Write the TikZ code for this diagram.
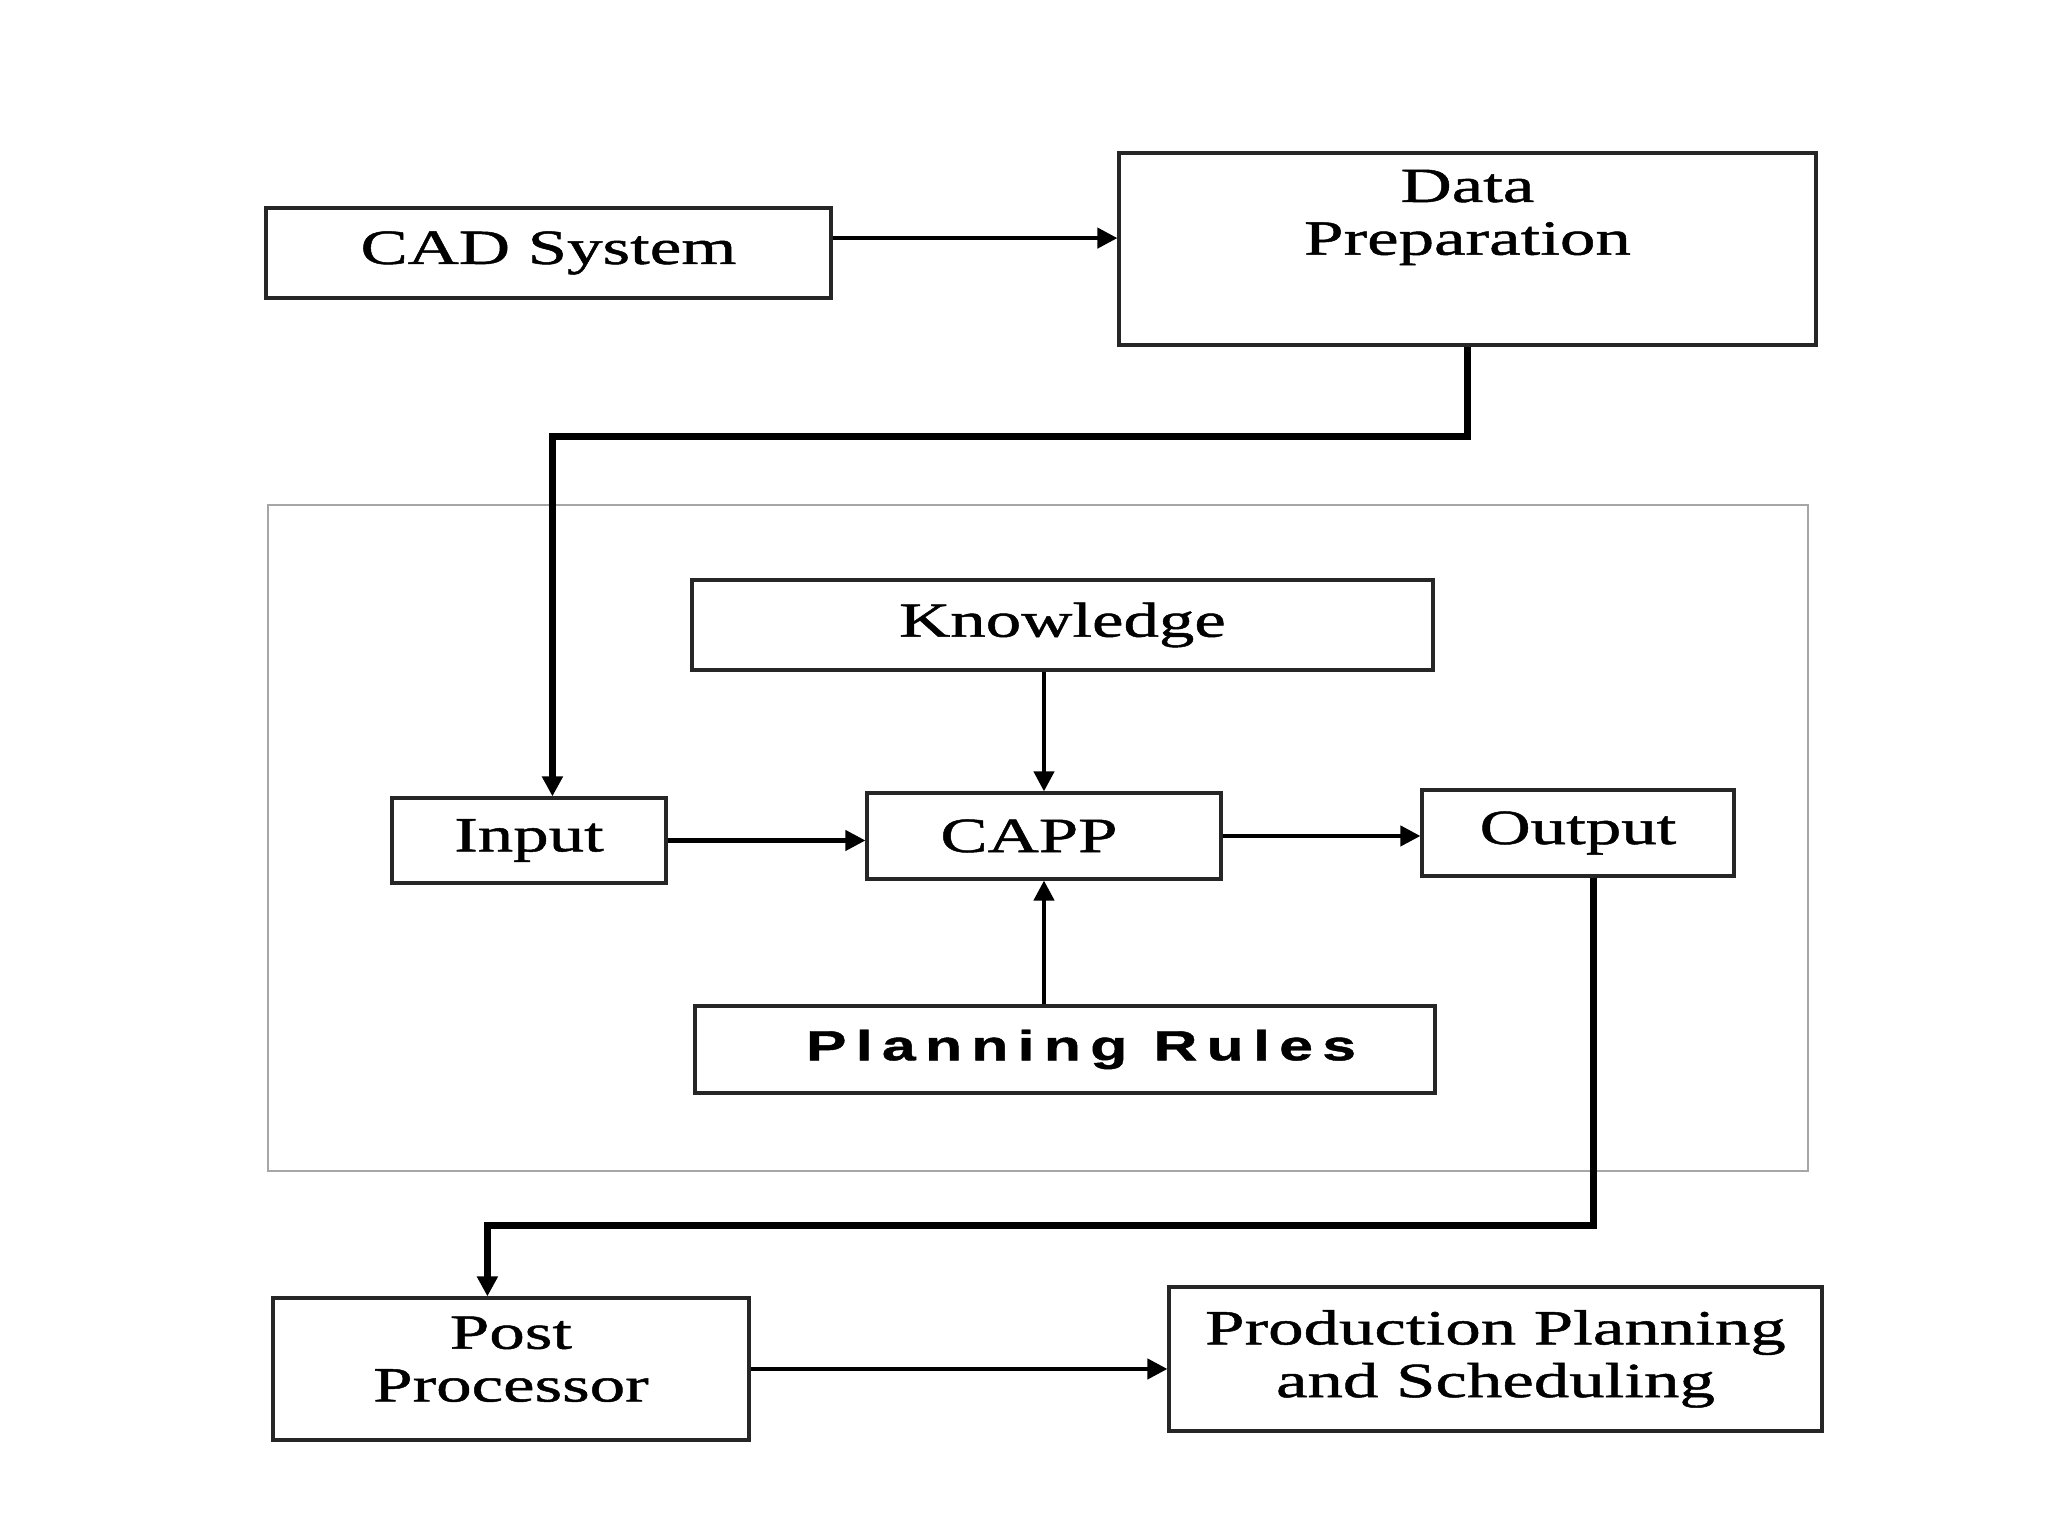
\documentclass[tikz,border=0pt]{standalone}
\usepackage{fontspec}
\setmainfont{Liberation Serif}[FakeStretch=1.44,FakeBold=1]
\newfontfamily\rulesfont{Liberation Sans}[FakeStretch=1.44,FakeBold=1,LetterSpace=22]
\usetikzlibrary{arrows.meta,positioning}

\begin{document}
\begin{tikzpicture}[b/.style={rectangle,draw=black!85,line width=0.9pt,inner sep=0pt,align=center,font=\fontsize{14pt}{15pt}\selectfont},
  a/.style={-{Triangle[length=2mm,width=2mm]},line width=1.2pt},
  aa/.style={a,line width=2pt}]
  \useasboundingbox (0,0) rectangle (20.48,15.36);
  \draw[black!35,line width=0.8pt] (2.68,3.65) rectangle (18.08,10.31);

  \node[b,minimum width=5.65cm,minimum height=0.9cm] (cad) at (5.485,12.83) {CAD System};
  \node[b] (prep) at (14.675,12.87) {\parbox[c][1.92cm][t]{6.97cm}{\centering\rule{0pt}{0.49cm}Data\\Preparation}};
  \draw[a] (cad.3) -- (cad.3 -| prep.west);

  \node[b,minimum width=7.41cm,minimum height=0.9cm] (know) at (10.625,9.11) {Knowledge};
  \node[b,minimum width=2.74cm,minimum height=0.85cm] (inp) at (5.29,6.955) {Input};
  \node[b,minimum width=3.54cm,minimum height=0.86cm] (capp) at (10.44,7.0) {CAPP\hspace*{0.3cm}};
  \node[b,minimum width=3.12cm,minimum height=0.86cm] (out) at (15.78,7.03) {Output};
  \node[b,minimum width=7.40cm,minimum height=0.87cm] (rules) at (10.65,4.865) {\hspace*{0.32cm}\rulesfont\bfseries\fontsize{12pt}{14pt}\selectfont Planning Rules};
  \draw[aa] (prep.south) -- ++(0,-0.9) -| (inp.62);
  \draw[a] (inp.east) -- (inp.east -| capp.west);
  \draw[a] (capp.east) -- (capp.east -| out.west);
  \draw[a] (know.south -| capp.north) -- (capp.north);
  \draw[a] (rules.north -| capp.south) -- (capp.south);

  \node[b,minimum width=4.76cm,minimum height=1.42cm] (post) at (5.11,1.67) {Post\\Processor\rule[-0.2cm]{0pt}{0pt}};
  \node[b,minimum width=6.53cm,minimum height=1.44cm] (pps) at (14.955,1.77) {Production Planning\\and Scheduling};
  \draw[aa] (out.-71) -- ++(0,-3.48) -| (post.108);
  \draw[a] (post.east) -- (post.east -| pps.west);
\end{tikzpicture}
\end{document}
